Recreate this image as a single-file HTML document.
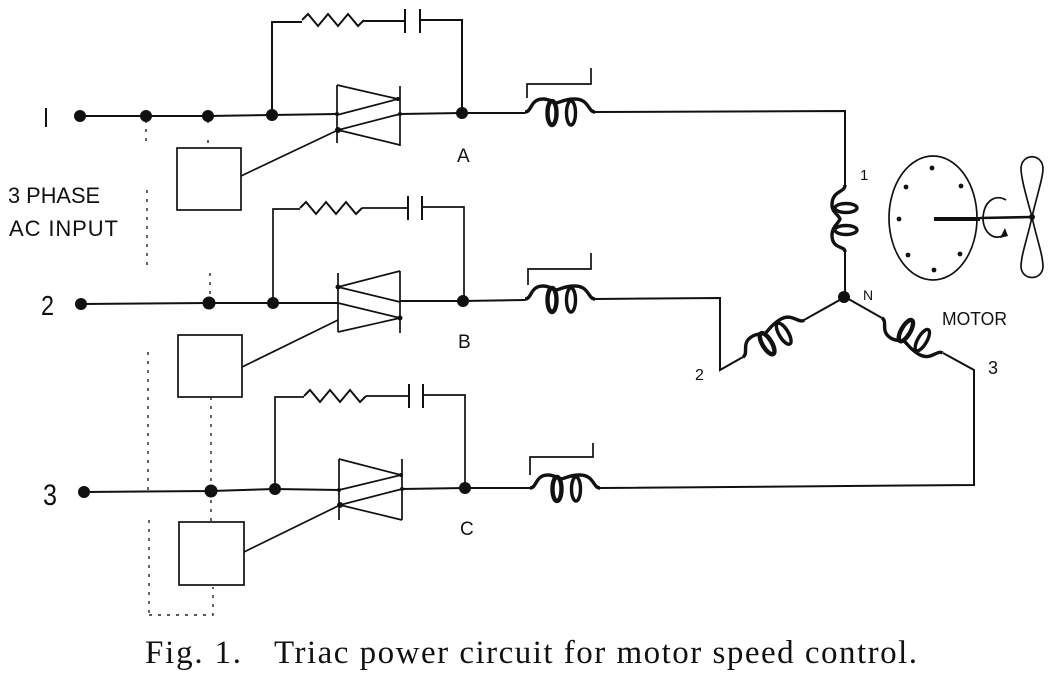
<!DOCTYPE html>
<html>
<head>
<meta charset="utf-8">
<style>
html,body{margin:0;padding:0;background:#fff;width:1062px;height:688px;overflow:hidden}
svg{display:block}
.w{fill:none;stroke:#111;stroke-width:2}
.t{fill:none;stroke:#111;stroke-width:1.7}
.d{fill:none;stroke:#222;stroke-width:1.4;stroke-dasharray:3 6}
.s{font-family:"Liberation Sans",sans-serif;fill:#111}
.c{font-family:"Liberation Serif",serif;font-size:33px;fill:#111}
</style>
</head>
<body>
<svg width="1062" height="688" viewBox="0 0 1062 688" xmlns="http://www.w3.org/2000/svg">
<defs>
<g id="coil" fill="none" stroke="#111">
<path d="M0 0C7 0 5 -13 18 -13C24 -13 27 -10 31 -9C36 -10 40 -13 50 -13C64 -13 63 0 70 0" stroke-width="3.4"/>
<ellipse cx="27" cy="1" rx="4.5" ry="12" stroke-width="4.4"/>
<ellipse cx="46" cy="1" rx="4.5" ry="12" stroke-width="3.4"/>
</g>
<path id="zz" d="M0 0L6 -6L16 6L26 -6L36 6L46 -6L56 6L62 0" fill="none" stroke="#111" stroke-width="2"/>
</defs>

<!-- Row 1 -->
<path class="w" d="M80 116L146 116L208 116L272 115L337 114M400 114L462 113L525 113"/>
<path class="w" d="M272 115V22H302M363 21H405M420 20H462V113"/>
<use href="#zz" x="302" y="20"/>
<path class="w" d="M405 9V33M420 9V33"/>
<path class="t" d="M337 85V143M400 86V146M337 85L398 99L337 115M400 114L338 130L400 145"/>
<rect x="177" y="148" width="64" height="62" class="t"/>
<path class="t" d="M241 176L338 130"/>
<!-- Row 2 -->
<path class="w" d="M81 304L209 303L273 303L338 303M400 301L463 301L525 300"/>
<path class="t" d="M273 303V209H300M362 208H408M422 207H464V301"/>
<use href="#zz" x="300" y="208"/>
<path class="w" d="M408 196V220M422 196V220"/>
<path class="t" d="M338 273V332M400 271V333M400 271L338 287L400 302M338 303L400 318L338 332"/>
<rect x="178" y="335" width="64" height="62" class="t"/>
<path class="t" d="M242 367L338 320"/>
<!-- Row 3 -->
<path class="w" d="M84 492L211 491L275 489L339 490M402 489L465 488L530 488"/>
<path class="t" d="M275 489V397H304M366 396H409M423 395H465V488"/>
<use href="#zz" x="304" y="396"/>
<path class="w" d="M409 384V408M423 384V408"/>
<path class="t" d="M339 459V520M402 459V520M339 459L401 475L339 490M402 489L340 505L402 520"/>
<rect x="179" y="522" width="65" height="63" class="t"/>
<path class="t" d="M244 552L340 505"/>

<!-- Dotted control lines -->
<path class="d" d="M146 120V143M147 190V266M148 352V490M149 520V613"/>
<path class="d" d="M149 615H213V587"/>
<path class="d" d="M208 120V126M208 140V148M210 273V300M211 397V488M211 491V522"/>

<!-- Junction dots -->
<g fill="#111">
<circle cx="80" cy="116" r="6"/><circle cx="146" cy="116" r="6"/><circle cx="208" cy="116" r="6"/><circle cx="272" cy="115" r="6"/><circle cx="462" cy="113" r="6"/>
<circle cx="81" cy="304" r="6"/><circle cx="209" cy="303" r="6.5"/><circle cx="273" cy="303" r="6"/><circle cx="463" cy="301" r="6"/>
<circle cx="84" cy="492" r="6"/><circle cx="211" cy="491" r="6.5"/><circle cx="275" cy="489" r="6"/><circle cx="465" cy="488" r="6"/>
<circle cx="338" cy="130" r="3"/><circle cx="337" cy="114" r="2"/><circle cx="400" cy="114" r="2"/><circle cx="398" cy="99" r="2"/>
<circle cx="338" cy="287" r="2.5"/><circle cx="400" cy="318" r="2.5"/>
<circle cx="340" cy="505" r="3"/><circle cx="339" cy="490" r="2"/><circle cx="402" cy="489" r="2"/><circle cx="401" cy="475" r="2"/>
<circle cx="844" cy="297" r="6"/>
</g>

<!-- Series inductors -->
<use href="#coil" x="525" y="112"/>
<path class="t" d="M527 98V84H591V68"/>
<use href="#coil" x="525" y="299"/>
<path class="t" d="M528 285V269H591V253"/>
<use href="#coil" x="530" y="488"/>
<path class="t" d="M530 475V457H593V443"/>

<!-- Right wiring -->
<path class="w" d="M595 112L845 111V185"/>
<path class="w" d="M595 299L720 298V370L743 357"/>
<path class="w" d="M600 488L974 485V370L943 353"/>
<path class="w" d="M845 252V297L804 320M845 297L882 318"/>

<!-- Motor coils -->
<g fill="none" stroke="#111" stroke-width="3.4">
<path d="M845 185C845 193 832 190 832 205C832 212 838 214 840 219C838 224 832 227 832 235C832 250 845 245 845 252"/>
<ellipse cx="846" cy="208" rx="11" ry="4.5"/>
<ellipse cx="846" cy="230" rx="11" ry="4.5"/>
</g>
<use href="#coil" transform="translate(743 357) rotate(-31) scale(1.02 1)"/>
<use href="#coil" transform="translate(882 318) rotate(30) scale(1.0 -1)"/>

<!-- Motor body -->
<ellipse cx="933" cy="218" rx="44" ry="62" class="t"/>
<g fill="#111">
<circle cx="932" cy="168" r="2.4"/><circle cx="906" cy="187" r="2.4"/><circle cx="961" cy="186" r="2.4"/><circle cx="899" cy="219" r="2.4"/><circle cx="908" cy="255" r="2.4"/><circle cx="960" cy="254" r="2.4"/><circle cx="934" cy="270" r="2.4"/><circle cx="1032" cy="217" r="3"/>
</g>
<path d="M934 219H980" stroke="#111" stroke-width="4" fill="none"/>
<path d="M980 218L1032 217" stroke="#111" stroke-width="2.6" fill="none"/>
<path class="t" d="M1006 200C996 194 984 200 983 218C983 234 996 242 1005 234"/>
<path d="M1005 228L1008 236L1000 238Z" fill="#111"/>
<path class="t" d="M1032 217C1026 195 1021 178 1021 168C1022 153 1042 153 1043 168C1043 178 1037 195 1032 217C1037 240 1043 255 1043 267C1042 281 1022 281 1021 267C1021 255 1027 240 1032 217Z"/>

<!-- Labels -->
<g class="s">
<path d="M46 108V127" stroke="#111" stroke-width="2" fill="none"/>
<text x="41" y="315" font-size="28" textLength="13" lengthAdjust="spacingAndGlyphs">2</text>
<text x="43" y="505" font-size="30" textLength="14" lengthAdjust="spacingAndGlyphs">3</text>
<text x="8" y="203" font-size="22" textLength="92" lengthAdjust="spacingAndGlyphs">3 PHASE</text>
<text x="9" y="236" font-size="22" textLength="109" lengthAdjust="spacing">AC INPUT</text>
<text x="457" y="162" font-size="19">A</text>
<text x="458" y="348" font-size="19">B</text>
<text x="460" y="535" font-size="19">C</text>
<text x="860" y="180" font-size="15">1</text>
<text x="863" y="300" font-size="14">N</text>
<text x="942" y="325" font-size="18" textLength="65" lengthAdjust="spacingAndGlyphs">MOTOR</text>
<text x="695" y="380" font-size="16">2</text>
<text x="988" y="374" font-size="18">3</text>
</g>
<text class="c" x="145" y="663" textLength="96" lengthAdjust="spacing">Fig. 1.</text>
<text class="c" x="274" y="663" textLength="643" lengthAdjust="spacing">Triac power circuit for motor speed control.</text>
</svg>
</body>
</html>
